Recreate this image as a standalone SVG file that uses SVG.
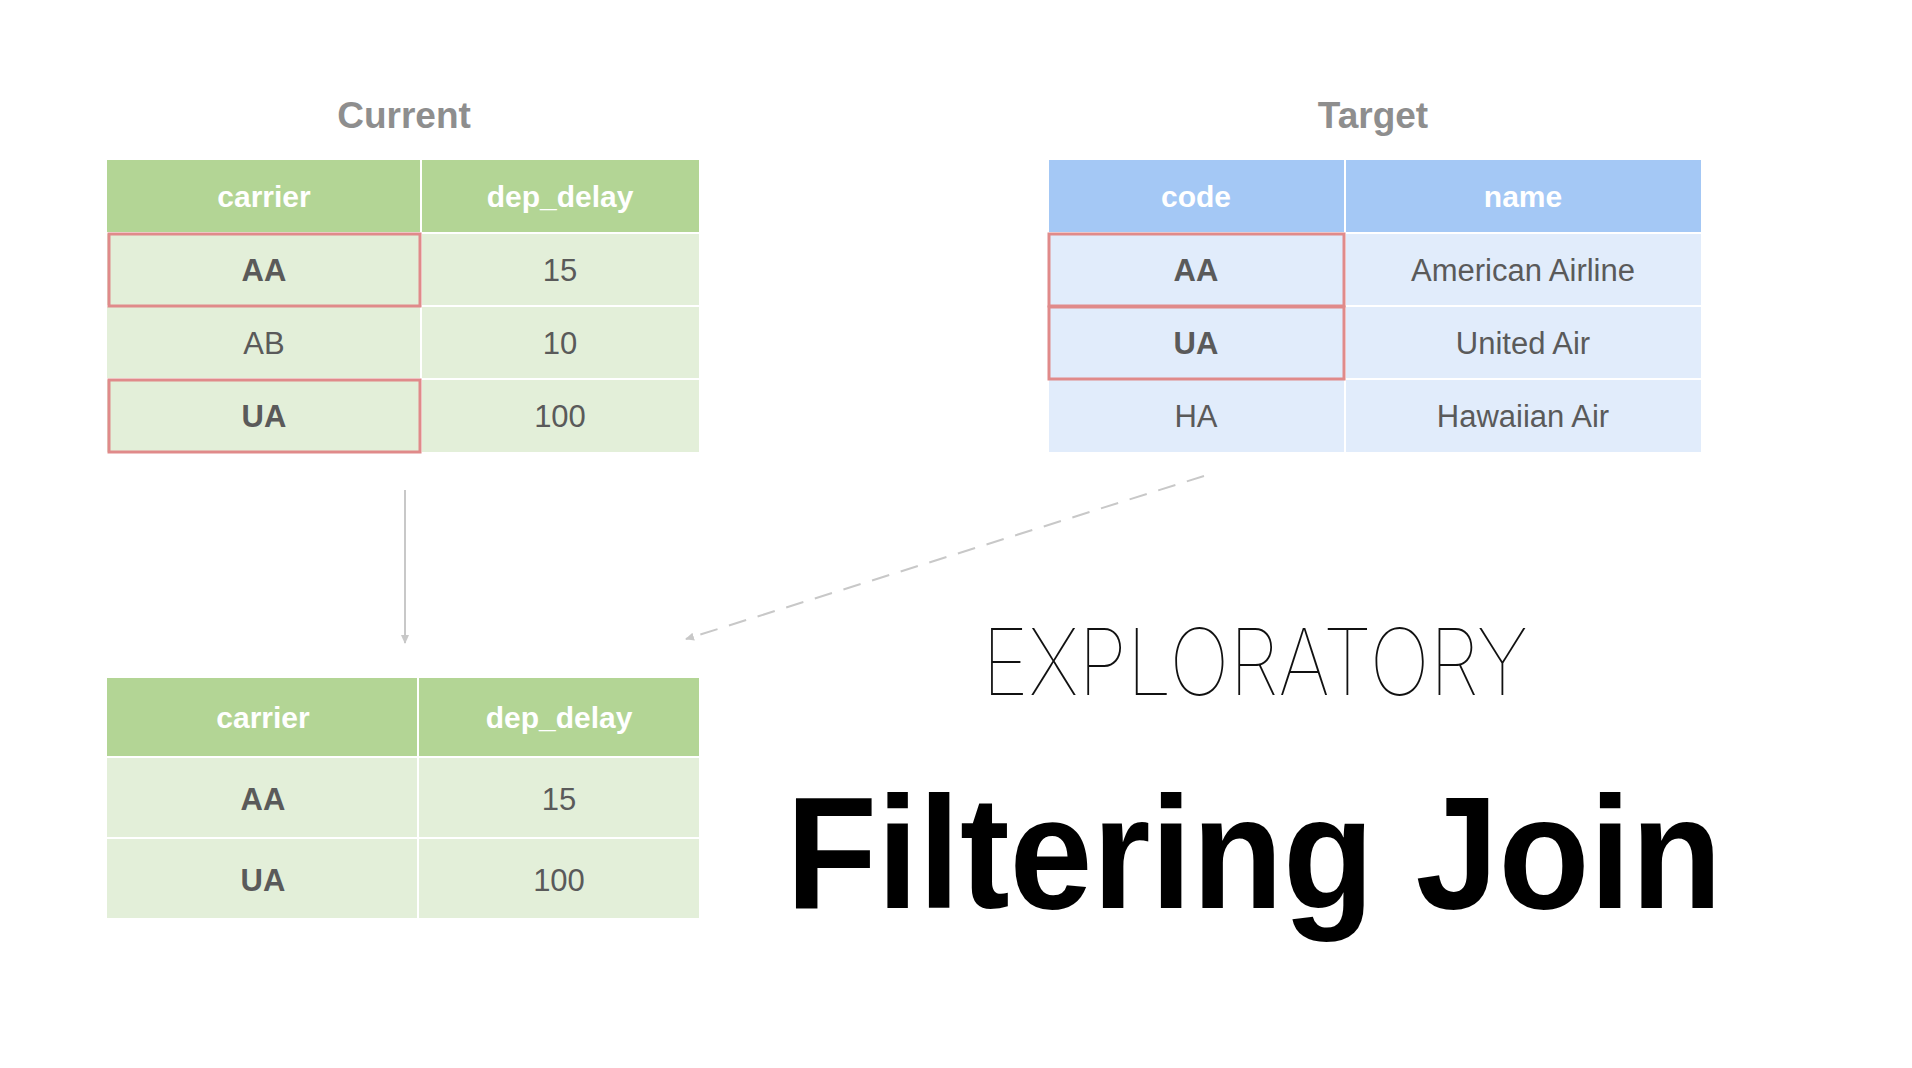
<svg xmlns="http://www.w3.org/2000/svg" width="1912" height="1068" viewBox="0 0 1912 1068">
<defs>
<style>
.t{font-family:"Liberation Sans",Arial,sans-serif;text-anchor:middle}
.title{font-size:37px;font-weight:bold;fill:#8e8e8e}
.hd{font-size:30px;font-weight:bold;fill:#fff}
.c{font-size:31px;fill:#5a5a5a}
.b{font-weight:bold}
.gh{fill:#b3d595}.gr{fill:#e3efd9}.bh{fill:#a4c8f5}.br{fill:#e1ecfb}
.sep{stroke:#fff;stroke-width:2}
.hl{fill:none;stroke:#e08a8a;stroke-width:3}
</style>
<marker id="ah" markerWidth="10" markerHeight="10" refX="8" refY="5" orient="auto" markerUnits="userSpaceOnUse"><path d="M0,1 L9,5 L0,9 Z" fill="#c8c8c8"/></marker>
</defs>
<rect width="1912" height="1068" fill="#fff"/>
<g id="current">
<text class="t title" x="404" y="128">Current</text>
<rect class="gh" x="107" y="160" width="592" height="73"/>
<rect class="gr" x="107" y="233" width="592" height="219"/>
<line class="sep" x1="421" y1="160" x2="421" y2="452"/>
<line class="sep" x1="107" y1="306" x2="699" y2="306"/><line class="sep" x1="107" y1="379" x2="699" y2="379"/><line class="sep" x1="107" y1="233" x2="699" y2="233"/>
<text class="t hd" x="264" y="207">carrier</text><text class="t hd" x="560" y="207">dep_delay</text>
<text class="t c b" x="264" y="281">AA</text><text class="t c" x="560" y="281">15</text>
<text class="t c" x="264" y="354">AB</text><text class="t c" x="560" y="354">10</text>
<text class="t c b" x="264" y="427">UA</text><text class="t c" x="560" y="427">100</text>
<rect class="hl" x="109" y="234" width="311" height="72"/>
<rect class="hl" x="109" y="380" width="311" height="72"/>
</g>
<g id="target">
<text class="t title" x="1373" y="128">Target</text>
<rect class="bh" x="1049" y="160" width="652" height="73"/>
<rect class="br" x="1049" y="233" width="652" height="219"/>
<line class="sep" x1="1345" y1="160" x2="1345" y2="452"/>
<line class="sep" x1="1049" y1="306" x2="1701" y2="306"/><line class="sep" x1="1049" y1="379" x2="1701" y2="379"/><line class="sep" x1="1049" y1="233" x2="1701" y2="233"/>
<text class="t hd" x="1196" y="207">code</text><text class="t hd" x="1523" y="207">name</text>
<text class="t c b" x="1196" y="281">AA</text><text class="t c" x="1523" y="281">American Airline</text>
<text class="t c b" x="1196" y="354">UA</text><text class="t c" x="1523" y="354">United Air</text>
<text class="t c" x="1196" y="427">HA</text><text class="t c" x="1523" y="427">Hawaiian Air</text>
<rect class="hl" x="1049" y="234" width="295" height="72"/>
<rect class="hl" x="1049" y="307" width="295" height="72"/>
</g>
<g id="result">
<rect class="gh" x="107" y="678" width="592" height="79"/>
<rect class="gr" x="107" y="757" width="592" height="161"/>
<line class="sep" x1="418" y1="678" x2="418" y2="918"/>
<line class="sep" x1="107" y1="838" x2="699" y2="838"/><line class="sep" x1="107" y1="757" x2="699" y2="757"/>
<text class="t hd" x="263" y="728">carrier</text><text class="t hd" x="559" y="728">dep_delay</text>
<text class="t c b" x="263" y="810">AA</text><text class="t c" x="559" y="810">15</text>
<text class="t c b" x="263" y="891">UA</text><text class="t c" x="559" y="891">100</text>
</g>
<g id="connectors" fill="none" stroke="#c8c8c8" stroke-width="2">
<line x1="405" y1="490" x2="405" y2="643" marker-end="url(#ah)"/>
<line x1="1204" y1="476" x2="686" y2="639" stroke-dasharray="18,12" marker-end="url(#ah)"/>
</g>
<g id="heading">
<text x="982" y="695" font-family="Inter,'Liberation Sans',sans-serif" font-weight="100" font-size="92" textLength="546" lengthAdjust="spacingAndGlyphs" fill="#111">EXPLORATORY</text>
<text x="786" y="908" font-family="'Liberation Sans',Arial,sans-serif" font-weight="bold" font-size="160" textLength="936" lengthAdjust="spacingAndGlyphs" fill="#000">Filtering Join</text>
</g>
</svg>
